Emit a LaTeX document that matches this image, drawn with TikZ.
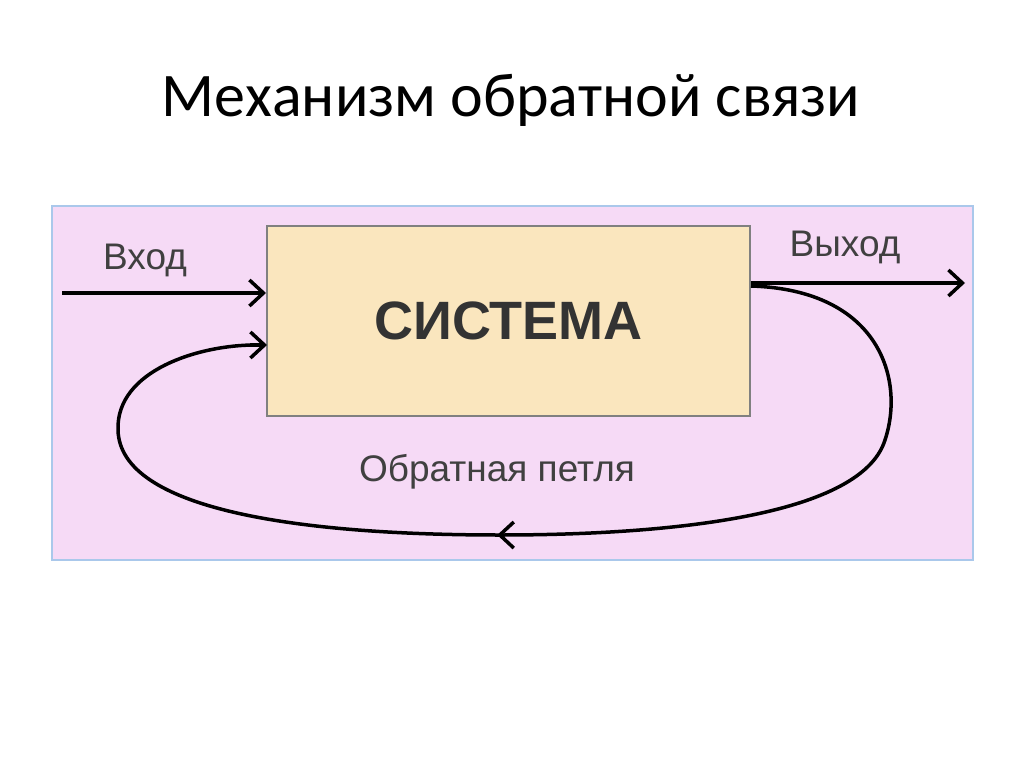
\documentclass[tikz,border=0pt]{standalone}
\usepackage{fontspec}
\setmainfont{Carlito}
\newfontfamily\lab{Liberation Sans}
\usetikzlibrary{arrows.meta,decorations.markings}
\definecolor{pinkbg}{RGB}{246,218,246}
\definecolor{beige}{RGB}{250,230,190}
\definecolor{edgeblue}{RGB}{170,200,235}
\tikzset{conn/.style={line width=3.5pt,-{Straight Barb[length=14pt,width=26pt,line width=3.5pt]}},
 lbl/.style={font=\lab\fontsize{37}{40}\selectfont,text=black!75}}
\begin{document}
\begin{tikzpicture}[x=1pt,y=-1pt]
\useasboundingbox (0,0) rectangle (1024,767);
\fill[white] (0,0) rectangle (1024,767);
\node (title) at (511,100) {\fontsize{62}{66}\selectfont Механизм обратной связи};
\draw[edgeblue,line width=2pt,fill=pinkbg] (52,206) rectangle (973,560);
\node[draw=black!50,line width=2pt,fill=beige,minimum width=483pt,minimum height=190pt,font=\lab\bfseries\fontsize{54}{58}\selectfont,text=black!80] (sys) at (508.5,321) {СИСТЕМА};
\coordinate (in) at (62,293);
\coordinate (out) at (965,283);
\coordinate (loopin) at (267,345);
\draw[conn] (in) -- (in -| sys.west);
\draw[conn] (out -| sys.east) -- (out);
\node[lbl] (vhod) at (145,260) {Вход};
\node[lbl] (vyhod) at (845,247) {Выход};
\node[lbl] (loop) at (497,472) {Обратная петля};
\draw[line width=3.5pt,postaction={decorate},decoration={markings,mark=at position 0.525 with {\arrow{Straight Barb[length=14pt,width=26pt,line width=3.5pt]}}}]
 (sys.east |- 0,286) .. controls (880,290) and (905,380) .. (885,440)
 .. controls (860,520) and (650,535) .. (500,535)
 .. controls (300,535) and (120,510) .. (118,430)
 .. controls (116,370) and (200,345) .. (255,345);
\draw[conn] (250,345) -- (loopin);
\end{tikzpicture}
\end{document}
